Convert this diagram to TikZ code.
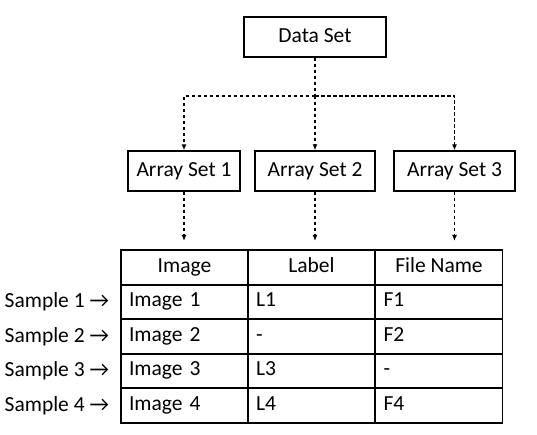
\documentclass[tikz,border=0pt]{standalone}
\usepackage{fontspec}
\setmainfont{Carlito}
\usetikzlibrary{arrows.meta,positioning}
\tikzset{
  setbox/.style={draw, line width=1.3pt, minimum height=40pt, inner sep=0pt,
    text height=15pt, text depth=4pt, font=\fontsize{21.5}{25}\selectfont},
  cell/.style={draw, line width=1.5pt, minimum width=127pt, minimum height=35pt,
    inner sep=0pt, text height=14pt, text depth=5pt,
    font=\fontsize{21.5}{25}\selectfont},
  bodycell/.style={cell, text width=111pt, align=left},
  link/.style={line width=1.2pt, dash pattern=on 3.5pt off 2.5pt,
    -{Latex[length=6pt,width=5pt]}},
  samplelbl/.style={anchor=east, inner sep=0pt, font=\fontsize{21.5}{25}\selectfont}
}
\begin{document}
\begin{tikzpicture}[x=1pt,y=-1pt]
\useasboundingbox (0,0) rectangle (537,435);
% sets
\node[setbox, minimum width=142pt] (data) at (315,37) {Data Set};
\node[setbox, minimum width=112pt] (arr1) at (184,171) {Array Set 1};
\node[setbox, minimum width=120pt] (arr2) at (315,171) {Array Set 2};
\node[setbox, minimum width=121pt] (arr3) at (454.5,171) {Array Set 3};
\coordinate (split) at (315,96);
\coordinate (tabtop) at (315,241);
% table header
\node[cell] (head1) at (184.5,267.5) {Image};
\node[cell] (head2) at (311.5,267.5) {Label};
\node[cell] (head3) at (439,267.5) {File Name};
% table rows
\foreach \img/\lab/\fil [count=\r] in {Image 1/L1/F1, Image 2/-/F2, Image 3/L3/-, Image 4/L4/F4}{
  \node[bodycell] (img\r) at (184.5,267.5+34.5*\r) {\img};
  \node[bodycell] (lab\r) at (311.5,267.5+34.5*\r) {\lab};
  \node[bodycell] (fil\r) at (439,267.5+34.5*\r) {\fil};
  \node[samplelbl] (smp\r) at ([xshift=-11pt]img\r.west) {Sample \r{} →};
}
% connectors
\draw[link, -] (data) -- (split);
\draw[link] (split) -| (arr1);
\draw[link] (split) -- (arr2);
\draw[link] (split) -| (arr3);
\draw[link] (arr1) -- (arr1 |- tabtop);
\draw[link] (arr2) -- (arr2 |- tabtop);
\draw[link] (arr3) -- (arr3 |- tabtop);
\end{tikzpicture}
\end{document}
